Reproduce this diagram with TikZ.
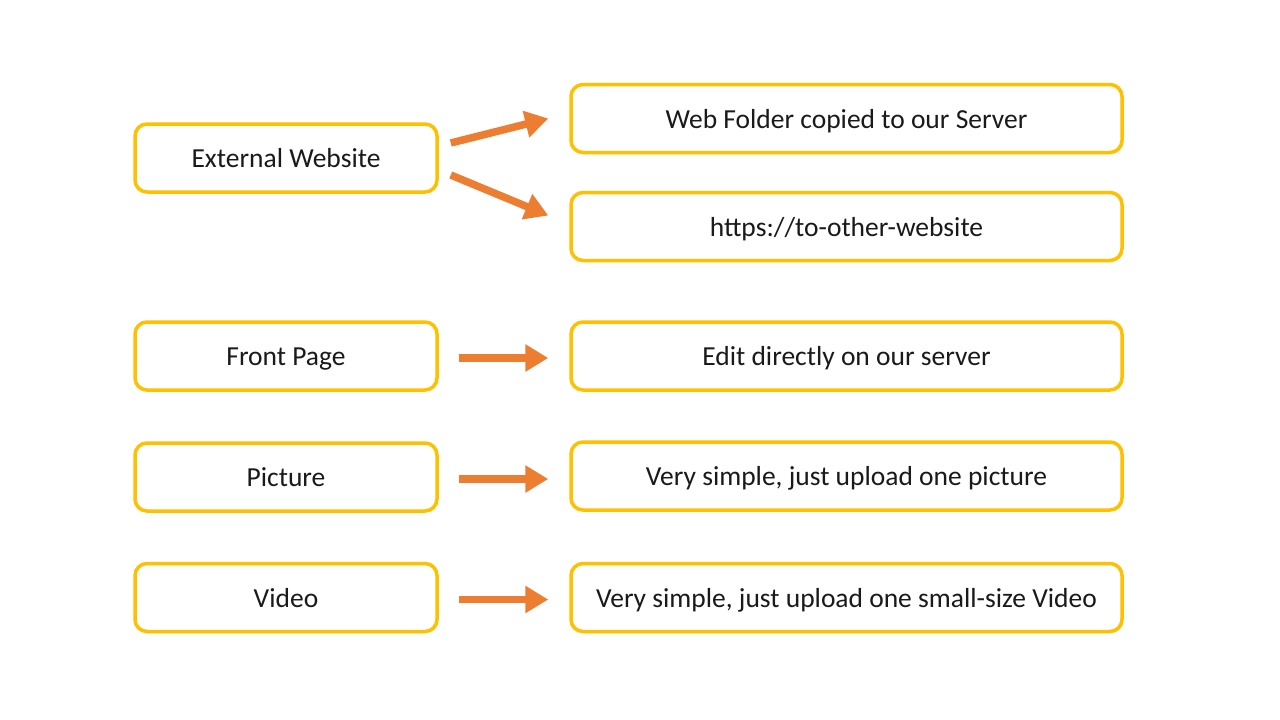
\documentclass[tikz,border=0pt]{standalone}
\usepackage{fontspec}
\setmainfont{Carlito}
\usetikzlibrary{arrows.meta,calc}
\definecolor{boxc}{HTML}{FFC000}
\definecolor{arrc}{HTML}{ED7D31}
\definecolor{txt}{HTML}{1A1A1A}
\begin{document}
\begin{tikzpicture}[x=1pt,y=-1pt,
  box/.style={draw=boxc,line width=3.5pt,rounded corners=12pt,minimum height=68pt,text=txt,font=\fontsize{27.5}{32}\selectfont,inner sep=0pt,text height=19pt,text depth=0pt},
  lbox/.style={box,minimum width=302pt},
  rbox/.style={box,minimum width=551pt},
  arr/.style={draw=arrc,line width=7.5pt,-{Triangle[length=23pt,width=26pt]}}]
\useasboundingbox[fill=white] (0,0) rectangle (1280,720);
\node[lbox] (ext) at (286,158) {External Website};
\node[lbox] (front) at (286,356) {Front Page};
\node[lbox] (pic) at (286,477) {Picture};
\node[lbox] (vid) at (286,597.5) {Video};
\node[rbox] (web) at (846.5,118.5) {Web Folder copied to our Server};
\node[rbox] (http) at (846.5,226.5) {https://to-other-website};
\node[rbox] (edit) at (846.5,356) {Edit directly on our server};
\node[rbox] (vspic) at (846.5,476) {Very simple, just upload one picture};
\node[rbox] (vsvid) at (846.5,597.5) {Very simple, just upload one small-size Video};
\draw[arr] ($(ext.east)+(12,-15)$) -- ($(web.west)+(-21,0)$);
\draw[arr] ($(ext.east)+(12,17)$) -- ($(http.west)+(-21,-11)$);
\draw[arr] ($(front.east)+(20,2)$) -- ($(edit.west)+(-21,2)$);
\draw[arr] ($(pic.east)+(20,2)$) -- ($(vspic.west)+(-21,3)$);
\draw[arr] ($(vid.east)+(20,2)$) -- ($(vsvid.west)+(-21,2)$);
\end{tikzpicture}
\end{document}
